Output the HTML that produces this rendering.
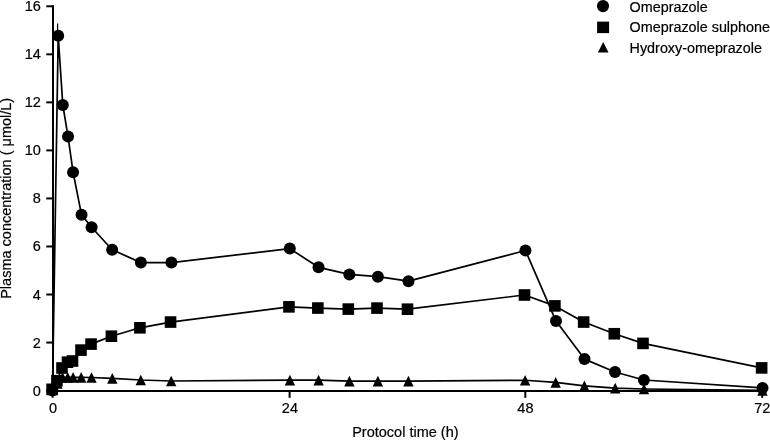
<!DOCTYPE html>
<html><head><meta charset="utf-8"><title>Plasma concentration</title>
<style>html,body{margin:0;padding:0;background:#fff;}body{width:770px;height:440px;overflow:hidden;}svg{display:block;}text{font-family:"Liberation Sans", Arial, sans-serif;font-size:14.5px;fill:#000;stroke:#000;stroke-width:0.2px;}.lg{font-size:14.35px;}</style></head><body>
<svg width="770" height="440" viewBox="0 0 770 440">
<rect width="770" height="440" fill="#fff"/>
<g stroke="#000" stroke-width="2" fill="none" stroke-linecap="butt">
<line x1="53.0" y1="5.3" x2="53.0" y2="392.1"/>
<line x1="52.0" y1="391.1" x2="763" y2="391.1"/>
<line x1="46.3" y1="390.60" x2="53.0" y2="390.60"/>
<line x1="46.3" y1="342.56" x2="53.0" y2="342.56"/>
<line x1="46.3" y1="294.52" x2="53.0" y2="294.52"/>
<line x1="46.3" y1="246.48" x2="53.0" y2="246.48"/>
<line x1="46.3" y1="198.44" x2="53.0" y2="198.44"/>
<line x1="46.3" y1="150.40" x2="53.0" y2="150.40"/>
<line x1="46.3" y1="102.36" x2="53.0" y2="102.36"/>
<line x1="46.3" y1="54.32" x2="53.0" y2="54.32"/>
<line x1="46.3" y1="6.28" x2="53.0" y2="6.28"/>
<line x1="52.6" y1="391.1" x2="52.6" y2="397.8"/>
<line x1="289.6" y1="391.1" x2="289.6" y2="397.8"/>
<line x1="525.3" y1="391.1" x2="525.3" y2="397.8"/>
<line x1="762.2" y1="391.1" x2="762.2" y2="397.8"/>
</g>
<text x="40.9" y="395.60" text-anchor="end">0</text>
<text x="40.9" y="347.56" text-anchor="end">2</text>
<text x="40.9" y="299.52" text-anchor="end">4</text>
<text x="40.9" y="251.48" text-anchor="end">6</text>
<text x="40.9" y="203.44" text-anchor="end">8</text>
<text x="40.9" y="155.40" text-anchor="end">10</text>
<text x="40.9" y="107.36" text-anchor="end">12</text>
<text x="40.9" y="59.32" text-anchor="end">14</text>
<text x="40.9" y="11.28" text-anchor="end">16</text>
<text x="53.0" y="413.2" text-anchor="middle">0</text>
<text x="289.9" y="413.2" text-anchor="middle">24</text>
<text x="525.4" y="413.2" text-anchor="middle">48</text>
<text x="762.3" y="413.2" text-anchor="middle">72</text>
<text x="352.2" y="436.9">Protocol time (h)</text>
<text transform="translate(10.5,298.8) rotate(-90)">Plasma concentration ( μmol/L)</text>
<g stroke="#000" stroke-width="1.7" fill="none" stroke-linejoin="round">
<polyline points="52.50,390.60 58.20,35.70 62.80,105.00 68.05,136.60 73.05,172.20 81.55,214.80 91.60,227.30 112.15,249.70 140.90,262.60 171.40,262.60 289.80,248.60 318.55,267.30 349.35,274.40 377.90,276.65 408.45,281.15 525.45,250.50 556.00,321.10 584.50,359.10 615.00,372.00 643.90,380.00 762.50,387.90"/>
<polyline points="52.10,389.30 56.95,380.70 62.00,368.00 67.50,362.20 72.50,361.00 81.00,350.10 91.05,344.10 111.40,336.20 139.90,327.80 170.55,322.05 288.95,306.85 317.85,308.05 348.30,309.10 377.00,308.10 407.50,309.20 524.50,295.00 554.90,305.90 583.65,322.05 614.30,333.75 643.00,343.40 761.65,367.90"/>
<polyline points="52.50,390.00 57.40,383.40 62.50,377.40 67.70,377.40 73.10,377.30 81.20,377.30 91.50,377.50 112.30,378.40 140.80,380.00 171.20,381.00 289.90,380.10 318.60,380.20 349.40,381.15 377.90,381.15 408.40,381.15 525.10,380.25 555.70,382.40 584.40,385.80 615.20,388.20 644.00,389.00 762.50,390.40"/>
</g>
<line x1="57.6" y1="23.4" x2="57.6" y2="32" stroke="#000" stroke-width="1.2"/>
<g fill="#000">
<circle cx="52.5" cy="390.6" r="6.0"/>
<circle cx="58.2" cy="35.7" r="6.0"/>
<circle cx="62.8" cy="105.0" r="6.0"/>
<circle cx="68.05" cy="136.6" r="6.0"/>
<circle cx="73.05" cy="172.2" r="6.0"/>
<circle cx="81.55" cy="214.8" r="6.0"/>
<circle cx="91.6" cy="227.3" r="6.0"/>
<circle cx="112.15" cy="249.7" r="6.0"/>
<circle cx="140.9" cy="262.6" r="6.0"/>
<circle cx="171.4" cy="262.6" r="6.0"/>
<circle cx="289.8" cy="248.6" r="6.0"/>
<circle cx="318.55" cy="267.3" r="6.0"/>
<circle cx="349.35" cy="274.4" r="6.0"/>
<circle cx="377.9" cy="276.65" r="6.0"/>
<circle cx="408.45" cy="281.15" r="6.0"/>
<circle cx="525.45" cy="250.5" r="6.0"/>
<circle cx="556.0" cy="321.1" r="6.0"/>
<circle cx="584.5" cy="359.1" r="6.0"/>
<circle cx="615.0" cy="372.0" r="6.0"/>
<circle cx="643.9" cy="380.0" r="6.0"/>
<circle cx="762.5" cy="387.9" r="6.0"/>
<rect x="46.30" y="383.50" width="11.6" height="11.6"/>
<rect x="51.15" y="374.90" width="11.6" height="11.6"/>
<rect x="56.20" y="362.20" width="11.6" height="11.6"/>
<rect x="61.70" y="356.40" width="11.6" height="11.6"/>
<rect x="66.70" y="355.20" width="11.6" height="11.6"/>
<rect x="75.20" y="344.30" width="11.6" height="11.6"/>
<rect x="85.25" y="338.30" width="11.6" height="11.6"/>
<rect x="105.60" y="330.40" width="11.6" height="11.6"/>
<rect x="134.10" y="322.00" width="11.6" height="11.6"/>
<rect x="164.75" y="316.25" width="11.6" height="11.6"/>
<rect x="283.15" y="301.05" width="11.6" height="11.6"/>
<rect x="312.05" y="302.25" width="11.6" height="11.6"/>
<rect x="342.50" y="303.30" width="11.6" height="11.6"/>
<rect x="371.20" y="302.30" width="11.6" height="11.6"/>
<rect x="401.70" y="303.40" width="11.6" height="11.6"/>
<rect x="518.70" y="289.20" width="11.6" height="11.6"/>
<rect x="549.10" y="300.10" width="11.6" height="11.6"/>
<rect x="577.85" y="316.25" width="11.6" height="11.6"/>
<rect x="608.50" y="327.95" width="11.6" height="11.6"/>
<rect x="637.20" y="337.60" width="11.6" height="11.6"/>
<rect x="755.85" y="362.10" width="11.6" height="11.6"/>
<polygon points="52.50,384.65 57.70,395.35 47.30,395.35"/>
<polygon points="57.40,378.05 62.60,388.75 52.20,388.75"/>
<polygon points="62.50,372.05 67.70,382.75 57.30,382.75"/>
<polygon points="67.70,372.05 72.90,382.75 62.50,382.75"/>
<polygon points="73.10,371.95 78.30,382.65 67.90,382.65"/>
<polygon points="81.20,371.95 86.40,382.65 76.00,382.65"/>
<polygon points="91.50,372.15 96.70,382.85 86.30,382.85"/>
<polygon points="112.30,373.05 117.50,383.75 107.10,383.75"/>
<polygon points="140.80,374.65 146.00,385.35 135.60,385.35"/>
<polygon points="171.20,375.65 176.40,386.35 166.00,386.35"/>
<polygon points="289.90,374.75 295.10,385.45 284.70,385.45"/>
<polygon points="318.60,374.85 323.80,385.55 313.40,385.55"/>
<polygon points="349.40,375.80 354.60,386.50 344.20,386.50"/>
<polygon points="377.90,375.80 383.10,386.50 372.70,386.50"/>
<polygon points="408.40,375.80 413.60,386.50 403.20,386.50"/>
<polygon points="525.10,374.90 530.30,385.60 519.90,385.60"/>
<polygon points="555.70,377.05 560.90,387.75 550.50,387.75"/>
<polygon points="584.40,380.45 589.60,391.15 579.20,391.15"/>
<polygon points="615.20,382.85 620.40,393.55 610.00,393.55"/>
<polygon points="644.00,383.65 649.20,394.35 638.80,394.35"/>
<polygon points="762.50,385.05 767.70,395.75 757.30,395.75"/>
<circle cx="603" cy="6.1" r="6.1"/>
<rect x="597.1" y="21.6" width="12" height="11.5"/>
<polygon points="603.2,42 608.5,52.5 597.9,52.5"/>
</g>
<text class="lg" x="629.6" y="11.5">Omeprazole</text>
<text class="lg" x="629.6" y="32.1">Omeprazole sulphone</text>
<text class="lg" x="629.6" y="52.8">Hydroxy-omeprazole</text>
</svg></body></html>
